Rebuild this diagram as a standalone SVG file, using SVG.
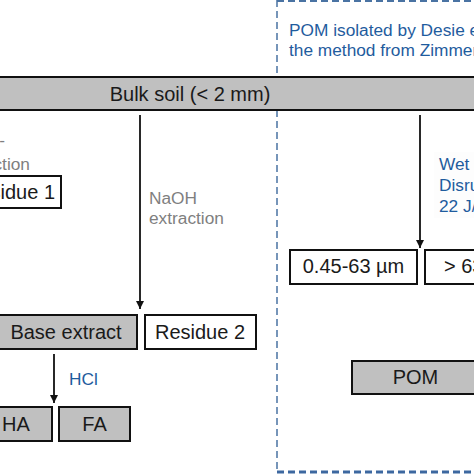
<svg xmlns="http://www.w3.org/2000/svg" width="474" height="474" viewBox="0 0 474 474">
<defs>
<style>
.box{stroke:#111;stroke-width:2}
.g{fill:#c0c0c0}
.w{fill:#fff}
.lbl{font-family:"Liberation Sans",Arial,sans-serif;font-size:20px;fill:#1a1a1a;text-anchor:middle}
.lbs{font-family:"Liberation Sans",Arial,sans-serif;font-size:20px;fill:#1a1a1a}
.gray{font-family:"Liberation Sans",Arial,sans-serif;font-size:17.3px;fill:#7f7f7f}
.grayend{font-family:"Liberation Sans",Arial,sans-serif;font-size:17.3px;fill:#7f7f7f;text-anchor:end}
.blue{font-family:"Liberation Sans",Arial,sans-serif;font-size:17.3px;fill:#1f5c9e}
.conn{stroke:#111;stroke-width:1.8;fill:none;marker-end:url(#ah)}
</style>
<marker id="ah" viewBox="0 0 10 10" refX="10" refY="5" markerWidth="4.5" markerHeight="4.5" orient="auto" markerUnits="strokeWidth">
<path d="M0,0 L10,5 L0,10 z" fill="#111"/>
</marker>
</defs>
<rect width="474" height="474" fill="#fff"/>

<g id="pom-region">
<line x1="277" y1="0" x2="277" y2="472" stroke="#4a73a3" stroke-width="1.5" stroke-dasharray="7 4"/>
<line x1="277" y1="1" x2="474" y2="1" stroke="#4a73a3" stroke-width="2" stroke-dasharray="7 4"/>
<line x1="277" y1="472" x2="474" y2="472" stroke="#3d68a0" stroke-width="3" stroke-dasharray="7 4"/>
<text class="blue" x="289" y="36">POM isolated by Desie et al.</text>
<text class="blue" x="289" y="56">the method from Zimmermann</text>
</g>

<g id="bulk-soil">
<rect class="box g" x="-5" y="77" width="485" height="33"/>
<text class="lbl" x="190" y="101">Bulk soil (&lt; 2 mm)</text>
</g>

<g id="left-extraction-label">
<text class="grayend" x="5" y="146">-</text>
<text class="grayend" x="30" y="170">extraction</text>
</g>

<g id="residue-1">
<rect class="box w" x="-40" y="176" width="101" height="32"/>
<text class="lbl" x="10" y="199">Residue 1</text>
</g>

<g id="naoh-label">
<text class="gray" x="149" y="204">NaOH</text>
<text class="gray" x="149" y="224">extraction</text>
</g>

<g id="wet-label">
<rect x="434" y="152" width="45" height="66" fill="#fdfdfd"/>
<text class="blue" x="439" y="170">Wet sieving</text>
<text class="blue" x="439" y="191">Disruption</text>
<text class="blue" x="439" y="212">22 J/ml</text>
</g>

<g id="base-extract">
<rect class="box g" x="-20" y="315" width="157" height="34"/>
<text class="lbl" x="66" y="339">Base extract</text>
</g>

<g id="residue-2">
<rect class="box w" x="145" y="315" width="111" height="34"/>
<text class="lbl" x="200" y="339">Residue 2</text>
</g>

<g id="hcl-label">
<text class="blue" x="69" y="385">HCl</text>
</g>

<g id="ha">
<rect class="box g" x="-20" y="407" width="72" height="34"/>
<text class="lbl" x="16" y="431">HA</text>
</g>

<g id="fa">
<rect class="box g" x="59" y="407" width="71" height="34"/>
<text class="lbl" x="94.5" y="431">FA</text>
</g>

<g id="fine-fraction">
<rect class="box w" x="290" y="250" width="127" height="34"/>
<text class="lbl" x="353.5" y="273">0.45-63 µm</text>
</g>

<g id="coarse-fraction">
<rect class="box w" x="425" y="250" width="80" height="34"/>
<text class="lbs" x="444" y="273">&gt; 63 µm</text>
</g>

<g id="pom">
<rect class="box g" x="352" y="361" width="140" height="33"/>
<text class="lbl" x="415.5" y="384">POM</text>
</g>

<g id="connectors">
<line class="conn" x1="140" y1="115" x2="140" y2="309"/>
<line class="conn" x1="54" y1="354" x2="54" y2="403"/>
<line class="conn" x1="420" y1="115" x2="420" y2="248"/>
</g>
</svg>
